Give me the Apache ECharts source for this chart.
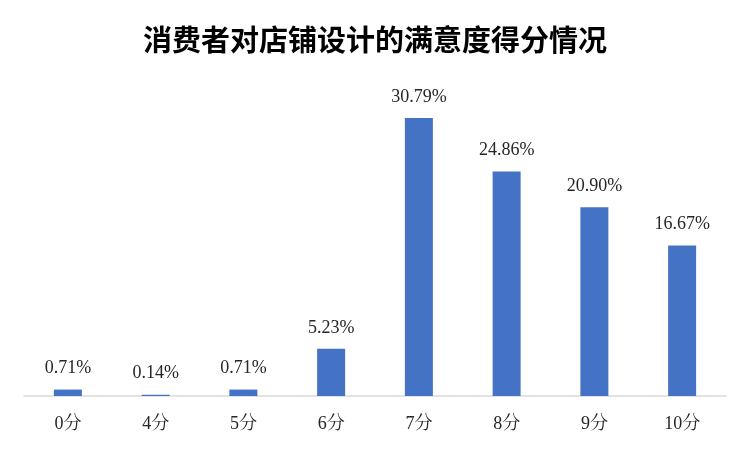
<!DOCTYPE html>
<html><head><meta charset="utf-8">
<script src="https://cdn.jsdelivr.net/npm/echarts@6/dist/echarts.min.js"></script>
<style>html,body{margin:0;padding:0;background:#fff}#c{width:750px;height:452px}</style>
</head><body><div id="c"></div>
<script>
const title = '消费者对店铺设计的满意度得分情况';
const categories = ['0分','4分','5分','6分','7分','8分','9分','10分'];
const values = [0.71, 0.14, 0.71, 5.23, 30.79, 24.86, 20.90, 16.67];
const serif = '"Liberation Serif","DejaVu Serif","Noto Serif CJK SC","Noto Sans CJK SC",serif';
const chart = echarts.init(document.getElementById('c'));
chart.setOption({
  animation:false,
  title:{text:title,left:'center',top:20,textStyle:{fontSize:29,fontWeight:'bold',color:'#000',fontFamily:'"Noto Sans CJK SC",sans-serif'}},
  grid:{left:24,right:24,top:80,bottom:56},
  xAxis:{type:'category',data:categories,axisLine:{lineStyle:{color:'#d9d9d9',width:1.5}},axisTick:{show:false},
    axisLabel:{color:'#262626',fontSize:18,margin:19,fontFamily:serif}},
  yAxis:{type:'value',min:0,max:35,show:false,splitLine:{show:false}},
  series:[{type:'bar',data:values,barWidth:28,itemStyle:{color:'#4472C4'},
    label:{show:true,position:'top',distance:12,color:'#262626',fontSize:18,fontFamily:serif,
      formatter:p=>p.value.toFixed(2)+'%'}}]
});
</script></body></html>
